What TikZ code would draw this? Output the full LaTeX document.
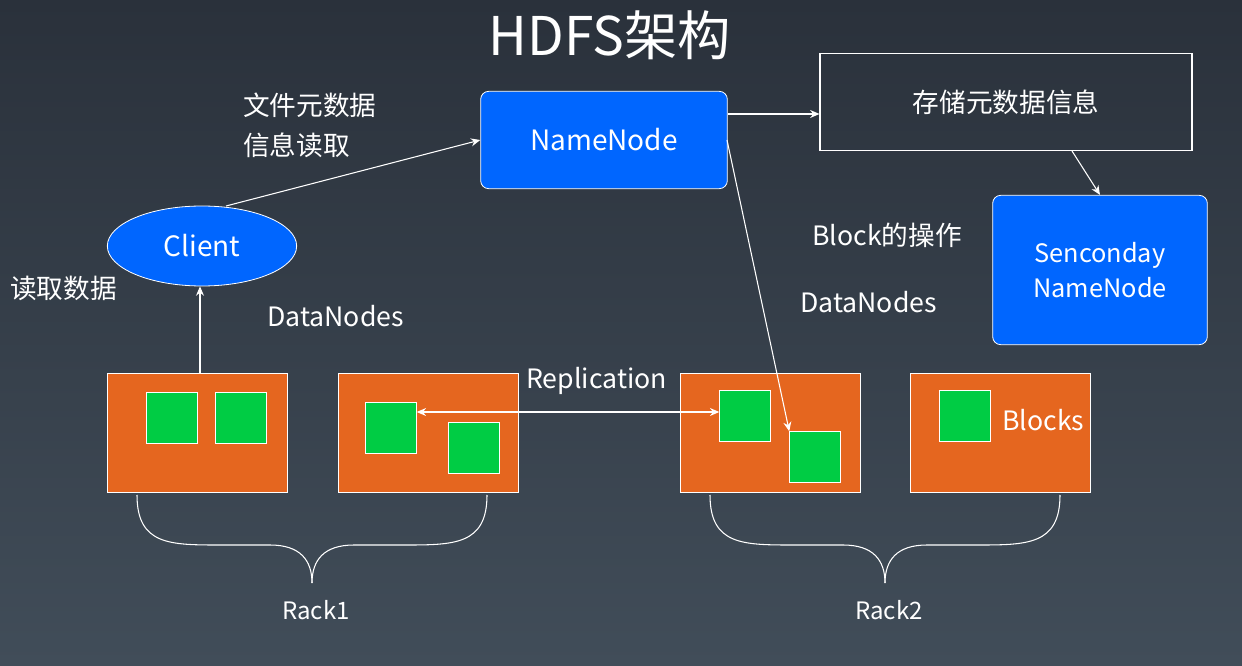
\documentclass[tikz,border=0pt]{standalone}
\usepackage{fontspec}
\setmainfont{Noto Sans CJK SC}
\usetikzlibrary{shapes.geometric,arrows.meta}
\definecolor{bgtop}{HTML}{2A313B}
\definecolor{bgbot}{HTML}{414D59}
\definecolor{nblue}{HTML}{0066FF}
\definecolor{rorange}{HTML}{E5661F}
\definecolor{bgreen}{HTML}{00CC44}
\begin{document}
\begin{tikzpicture}[x=0.75pt,y=-0.75pt,
  every node/.style={text=white},
  bluebox/.style={draw=white,fill=nblue,rounded corners=6pt,line width=0.6pt},
  rack/.style={draw=white,fill=rorange,line width=0.6pt},
  blk/.style={draw=white,fill=bgreen,line width=0.6pt},
  arr/.style={draw=white,line width=0.8pt,-{Stealth[length=7pt,width=6pt]}},
  lbl/.style={font=\fontsize{20}{24}\selectfont,anchor=west,inner sep=0pt},
  brace/.style={draw=white,line width=0.8pt}]
\shade[top color=bgtop,bottom color=bgbot] (0,0) rectangle (1242,666);
\useasboundingbox (0,0) rectangle (1242,666);
\node (title) at (610,35) {\fontsize{40}{44}\selectfont HDFS架构};
\node[bluebox,minimum width=185pt,minimum height=73pt] (nn) at (604,140) {\fontsize{21}{24}\selectfont NameNode};
\node[draw=white,line width=0.8pt,minimum width=279pt,minimum height=73pt] (store) at (1006,102) {\fontsize{20}{24}\selectfont 存储元数据信息};
\node[bluebox,minimum width=161pt,minimum height=112pt,align=center,font=\fontsize{19}{26}\selectfont] (sec) at (1100,270) {Senconday\\NameNode};
\node[ellipse,draw=white,fill=nblue,line width=0.6pt,minimum width=142pt,minimum height=60pt] (client) at (202,246) {\fontsize{21}{24}\selectfont Client};
\node[lbl,align=left,font=\fontsize{20}{30}\selectfont] (meta) at (243,125) {文件元数据\\信息读取};
\node[lbl] (read) at (10,288) {读取数据};
\node[lbl] (dn1) at (267,316) {DataNodes};
\node[lbl] (dn2) at (800,302) {DataNodes};
\node[lbl] (bop) at (812,235) {Block的操作};
\node[rack,minimum width=135pt,minimum height=89pt] (r1) at (197,433) {};
\node[rack,minimum width=135pt,minimum height=89pt] (r2) at (428,433) {};
\node[rack,minimum width=135pt,minimum height=89pt] (r3) at (770,433) {};
\node[rack,minimum width=135pt,minimum height=89pt] (r4) at (1000,433) {};
\node[blk,minimum size=38pt] (b1) at (172,418) {};
\node[blk,minimum size=38pt] (b2) at (241,418) {};
\node[blk,minimum size=38pt] (b3) at (391,428) {};
\node[blk,minimum size=38pt] (b4) at (474,448) {};
\node[blk,minimum size=38pt] (b5) at (745,416) {};
\node[blk,minimum size=38pt] (b6) at (815,457) {};
\node[blk,minimum size=38pt] (b7) at (965,416) {};
\node[lbl] (blocks) at (1002,420) {Blocks};
\node[lbl] (repl) at (526,381) {Replication};
\node (rk1) at (316,610) {\fontsize{18}{20}\selectfont Rack1};
\node (rk2) at (889,610) {\fontsize{18}{20}\selectfont Rack2};
\coordinate (c1) at (226,206);
\draw[arr] (c1) -- (nn.west);
\draw[arr] (nn.east |- 0,114) -- (store.west |- 0,114);
\draw[arr] (1072,151) -- (sec.north -| 1100,0);
\draw[arr] (727,140) -- (b6.north west);
\draw[arr] (r1.north -| 200,0) -- (client.south -| 200,0);
\draw[arr,{Stealth[length=7pt,width=6pt]}-{Stealth[length=7pt,width=6pt]}] (b3.east |- 0,412) -- (b5.west |- 0,412);
\draw[brace] (137,495) .. controls (137,545) and (170,545) .. (220,545) -- (270,545) .. controls (300,545) and (312,560) .. (312,583);
\draw[brace] (487,495) .. controls (487,545) and (454,545) .. (404,545) -- (354,545) .. controls (324,545) and (312,560) .. (312,583);
\draw[brace] (710,495) .. controls (710,545) and (743,545) .. (793,545) -- (843,545) .. controls (873,545) and (885,560) .. (885,583);
\draw[brace] (1060,495) .. controls (1060,545) and (1027,545) .. (977,545) -- (927,545) .. controls (897,545) and (885,560) .. (885,583);
\end{tikzpicture}
\end{document}
